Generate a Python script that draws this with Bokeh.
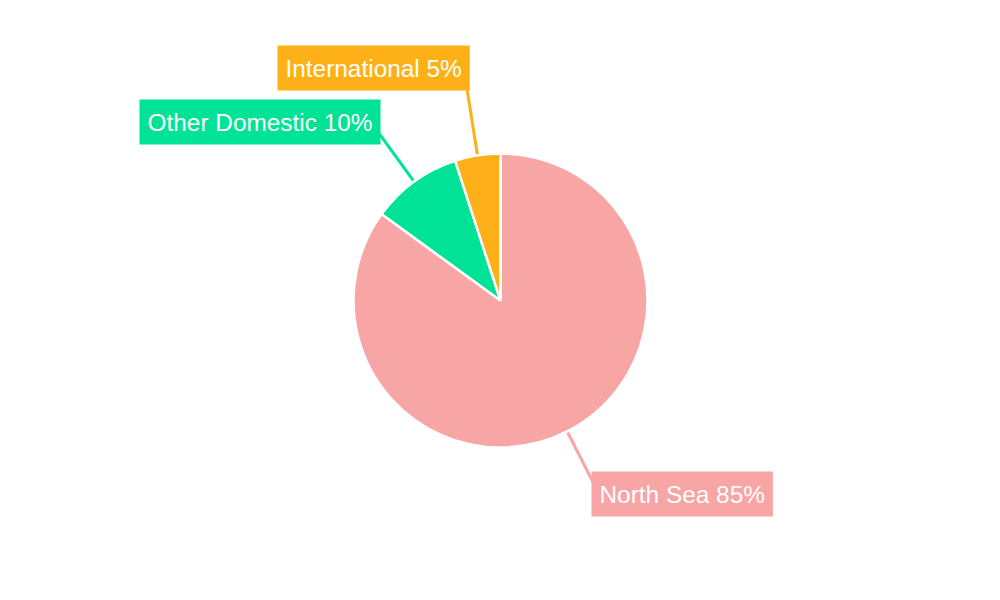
import math
from bokeh.plotting import figure
from bokeh.models import Range1d, Label, ColumnDataSource
from bokeh.embed import file_html
from bokeh.resources import INLINE

# ---- data ----
categories = ["North Sea", "Other Domestic", "International"]
shares = [85, 10, 5]
colors = ["#F8A5A6", "#00E396", "#FEB019"]

# ---- layout (pixel-based data space, origin at pie centre) ----
W, H = 984, 584
R = 147
R_LINE_END = 215
label_pos = {  # top-left corners of label boxes
    "North Sea": (91, -171),
    "Other Domestic": (-361, 201),
    "International": (-223, 255),
}

p = figure(width=W, height=H, output_backend="svg", toolbar_location=None,
           x_range=Range1d(-500, W - 500), y_range=Range1d(300 - H, 300),
           min_border=0)
p.axis.visible = False
p.grid.visible = False
p.outline_line_color = None
p.background_fill_color = "white"
p.border_fill_color = "white"

total = sum(shares)
starts, ends, mids = [], [], []
cum = 0.0
for v in shares:
    a0 = math.pi / 2 - 2 * math.pi * cum / total
    cum += v
    a1 = math.pi / 2 - 2 * math.pi * cum / total
    starts.append(a0)
    ends.append(a1)
    mids.append((a0 + a1) / 2)

src = ColumnDataSource(dict(start=starts, end=ends, color=colors, cat=categories))

# leader lines
x0 = [R * math.cos(a) for a in mids]
y0 = [R * math.sin(a) for a in mids]
x1 = [R_LINE_END * math.cos(a) for a in mids]
y1 = [R_LINE_END * math.sin(a) for a in mids]
p.segment(x0=x0, y0=y0, x1=x1, y1=y1, line_color=colors, line_width=3)

p.wedge(x=0, y=0, radius=R, start_angle="start", end_angle="end",
        direction="clock", fill_color="color", line_color="white",
        line_width=2.5, source=src)

for cat, v, c in zip(categories, shares, colors):
    lx, ly = label_pos[cat]
    p.add_layout(Label(x=lx, y=ly, text=f"{cat} {v}%", anchor="top_left",
                       text_color="white", text_font="Liberation Sans",
                       text_font_size="24.4px", background_fill_color=c,
                       padding=dict(left=8, right=8, top=9, bottom=9)))

open("out.html", "w").write(file_html(p, INLINE))
